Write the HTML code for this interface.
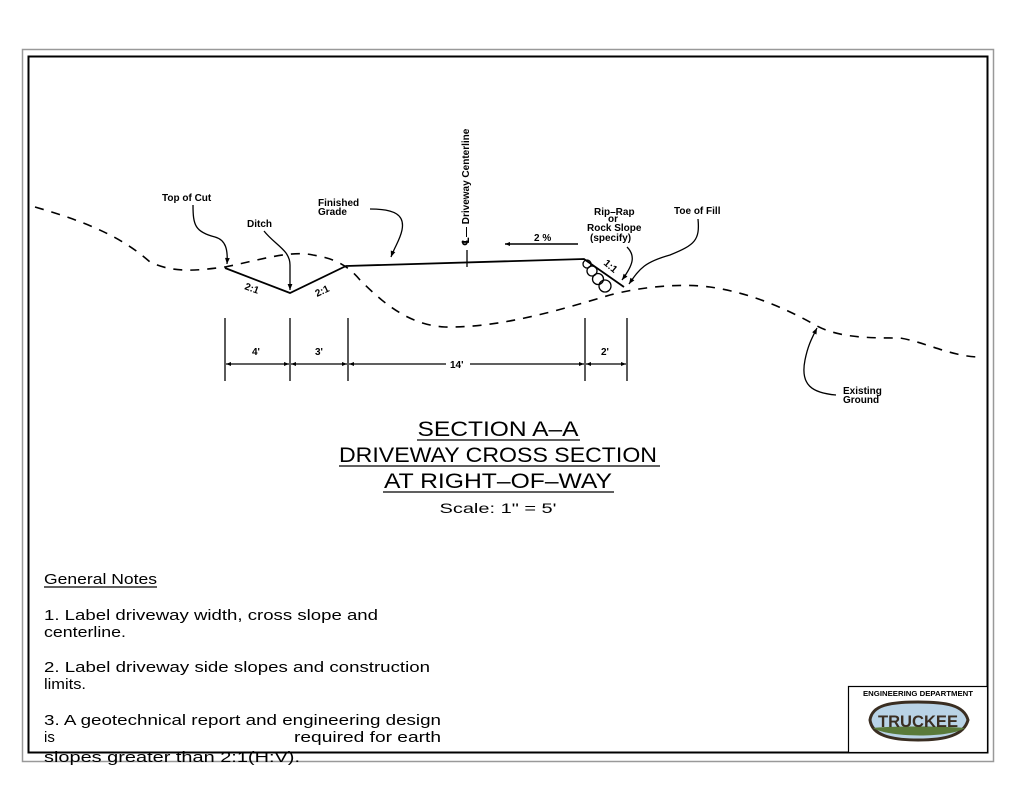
<!DOCTYPE html>
<html><head><meta charset="utf-8"><style>
html,body{margin:0;padding:0;background:#fff;}
svg{display:block;}
text{font-family:"Liberation Sans","DejaVu Sans",sans-serif;fill:#000;}
.s{font-size:10px;font-weight:bold;}
</style></head><body>
<svg width="1024" height="791" viewBox="0 0 1024 791" xmlns="http://www.w3.org/2000/svg">
<defs>
<marker id="a" viewBox="0 0 10 10" refX="10" refY="5" markerWidth="9" markerHeight="6" orient="auto-start-reverse" markerUnits="userSpaceOnUse"><path d="M0,1 L10,5 L0,9 z" fill="#000"/></marker>
<marker id="b" viewBox="0 0 10 10" refX="10" refY="5" markerWidth="14" markerHeight="5" orient="auto-start-reverse" markerUnits="userSpaceOnUse"><path d="M0,1 L10,5 L0,9 z" fill="#000"/></marker>
</defs>
<rect x="22.5" y="49.5" width="971" height="712" fill="none" stroke="#999" stroke-width="1.5"/>
<rect x="28.5" y="56.5" width="959" height="696" fill="none" stroke="#000" stroke-width="2"/>
<path d="M35,207 C80,220 120,235 150,262 C175,274 200,270 225,267 C260,260 290,250 313,255 C330,258 345,262 360,280 C385,305 410,325 445,327 C500,328 560,310 610,295 C640,287 680,283 710,287 C745,292 780,305 817,326 C840,338 870,338 900,338 C925,342 950,356 978,357" fill="none" stroke="#000" stroke-width="1.6" stroke-dasharray="9,8"/>
<polyline points="225,268 290,293 346,266 584,259 624,287" fill="none" stroke="#000" stroke-width="1.8"/>
<g fill="none" stroke="#000" stroke-width="1.3">
<circle cx="587" cy="264" r="4"/><circle cx="592" cy="271" r="5"/><circle cx="598" cy="279" r="5.5"/><circle cx="605" cy="286" r="6"/>
</g>
<line x1="467" y1="250" x2="467" y2="267" stroke="#000" stroke-width="1.3"/>
<text class="s" transform="translate(469,246) rotate(-90)" font-size="10">℄— Driveway Centerline</text>
<line x1="578" y1="244" x2="505" y2="244" stroke="#000" stroke-width="1.5" marker-end="url(#b)"/>
<text class="s" x="534" y="241">2 %</text>
<text class="s" transform="translate(244,289) rotate(20)">2:1</text>
<text class="s" transform="translate(317,297) rotate(-25)">2:1</text>
<text class="s" transform="translate(603,264) rotate(40)">1:1</text>
<g stroke="#000" stroke-width="1.3">
<line x1="225" y1="318" x2="225" y2="381"/><line x1="290" y1="318" x2="290" y2="381"/>
<line x1="348" y1="318" x2="348" y2="381"/><line x1="585" y1="318" x2="585" y2="381"/>
<line x1="627" y1="318" x2="627" y2="381"/>
<line x1="226" y1="364" x2="289" y2="364" marker-start="url(#b)" marker-end="url(#b)"/>
<line x1="291" y1="364" x2="347" y2="364" marker-start="url(#b)" marker-end="url(#b)"/>
<line x1="349" y1="364" x2="446" y2="364" marker-start="url(#b)"/>
<line x1="470" y1="364" x2="584" y2="364" marker-end="url(#b)"/>
<line x1="586" y1="364" x2="626" y2="364" marker-start="url(#b)" marker-end="url(#b)"/>
</g>
<text class="s" x="252" y="355">4'</text>
<text class="s" x="315" y="355">3'</text>
<text class="s" x="450" y="368">14'</text>
<text class="s" x="601" y="355">2'</text>
<text class="s" x="162" y="201">Top of Cut</text>
<path d="M193,205 C193,225 195,232 215,237 C226,240 228,250 227,264" fill="none" stroke="#000" stroke-width="1.3" marker-end="url(#a)"/>
<text class="s" x="247" y="227">Ditch</text>
<path d="M264,231 C275,245 290,250 290,265 L290,290" fill="none" stroke="#000" stroke-width="1.3" marker-end="url(#a)"/>
<text class="s" x="318" y="206">Finished</text>
<text class="s" x="318" y="215">Grade</text>
<path d="M370,209 C395,209 405,215 402,230 C400,240 395,246 391,257" fill="none" stroke="#000" stroke-width="1.3" marker-end="url(#a)"/>
<text class="s" x="594" y="215">Rip–Rap</text>
<text class="s" x="608" y="222" font-size="8">or</text>
<text class="s" x="587" y="231">Rock Slope</text>
<text class="s" x="590" y="241">(specify)</text>
<path d="M627,247 C636,256 633,265 622,280" fill="none" stroke="#000" stroke-width="1.3" marker-end="url(#a)"/>
<text class="s" x="674" y="214">Toe of Fill</text>
<path d="M698,219 C700,240 695,245 670,255 C645,262 640,268 629,284" fill="none" stroke="#000" stroke-width="1.3" marker-end="url(#a)"/>
<text class="s" x="843" y="394">Existing</text>
<text class="s" x="843" y="403">Ground</text>
<path d="M836,395 C812,393 800,385 805,360 C808,345 812,338 817,328" fill="none" stroke="#000" stroke-width="1.3" marker-end="url(#a)"/>
<g font-size="21" text-anchor="middle" style="font-family:'DejaVu Sans','Liberation Sans',sans-serif;font-weight:200">
<text x="498" y="436" textLength="161" lengthAdjust="spacingAndGlyphs">SECTION A–A</text>
<text x="498" y="462" textLength="318" lengthAdjust="spacingAndGlyphs">DRIVEWAY CROSS SECTION</text>
<text x="498" y="488" textLength="228" lengthAdjust="spacingAndGlyphs">AT RIGHT–OF–WAY</text>
</g>
<g stroke="#000" stroke-width="1.3">
<line x1="417" y1="440" x2="580" y2="440"/>
<line x1="339" y1="466" x2="660" y2="466"/>
<line x1="383" y1="492" x2="614" y2="492"/>
</g>
<text x="498" y="513" font-size="14" text-anchor="middle" textLength="117" lengthAdjust="spacingAndGlyphs">Scale: 1" = 5'</text>
<g font-size="15">
<text x="44" y="584" textLength="113" lengthAdjust="spacingAndGlyphs">General Notes</text>
<text x="44" y="620" textLength="334" lengthAdjust="spacingAndGlyphs">1. Label driveway width, cross slope and</text>
<text x="44" y="637" textLength="82" lengthAdjust="spacingAndGlyphs">centerline.</text>
<text x="44" y="672" textLength="386" lengthAdjust="spacingAndGlyphs">2. Label driveway side slopes and construction</text>
<text x="44" y="689" textLength="42" lengthAdjust="spacingAndGlyphs">limits.</text>
<text x="44" y="725" textLength="397" lengthAdjust="spacingAndGlyphs">3. A geotechnical report and engineering design</text>
<text x="44" y="742">is</text>
<text x="294" y="742" textLength="147" lengthAdjust="spacingAndGlyphs">required for earth</text>
<text x="44" y="762" textLength="256" lengthAdjust="spacingAndGlyphs">slopes greater than 2:1(H:V).</text>
</g>
<line x1="44" y1="587" x2="157" y2="587" stroke="#000" stroke-width="1.2"/>
<rect x="848.5" y="686.5" width="139" height="66" fill="#fff" stroke="#000" stroke-width="1.2"/>
<text x="918" y="696" font-size="7" font-weight="bold" text-anchor="middle" textLength="110" lengthAdjust="spacingAndGlyphs">ENGINEERING DEPARTMENT</text>
<path d="M870,720 C872,705 890,702 918,702 C946,702 964,705 968,720 C964,735 946,740 918,740 C890,740 872,735 870,720 z" fill="#b9d3e6" stroke="#3a2e22" stroke-width="3"/>
<path d="M873,728 C890,726 945,726 965,728 C950,738 890,738 873,728 z" fill="#5a7a3a"/>
<text x="918" y="727" font-size="17" font-family="Liberation Serif,serif" font-weight="bold" text-anchor="middle" style="fill:#3a2e22" textLength="80" lengthAdjust="spacingAndGlyphs">TRUCKEE</text>
</svg>
</body></html>
